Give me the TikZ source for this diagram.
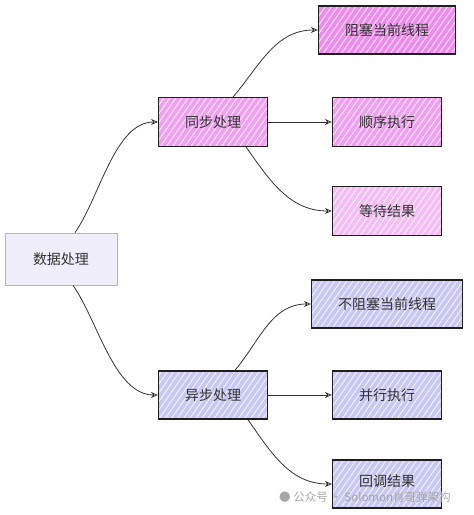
\documentclass[tikz,border=0pt]{standalone}
\usepackage{fontspec}
\setmainfont{Noto Sans CJK SC}
\usetikzlibrary{arrows.meta,positioning,patterns.meta}

\definecolor{syncfill}{HTML}{F0A0F0}
\definecolor{syncdeep}{HTML}{EE8CEE}
\definecolor{synclight}{HTML}{F4BEF4}
\definecolor{asyncfill}{HTML}{C8C8F2}
\definecolor{rootfill}{HTML}{EFEEFA}
\definecolor{rootline}{HTML}{B4B2D4}
\definecolor{inkline}{HTML}{1E1E1E}

\begin{document}
\begin{tikzpicture}[
  x=1pt, y=1pt,
  font=\fontsize{14}{16}\selectfont,
  box/.style={draw=inkline, line width=1.2pt, align=center, minimum width=109pt, minimum height=49pt, inner sep=3pt, text=black!80},
  hatch/.style={preaction={fill=#1}, pattern={Lines[angle=55, distance=5pt, line width=0.9pt]}, pattern color=white!80!#1},
  syncbox/.style={box, hatch=syncfill},
  asyncbox/.style={box, hatch=asyncfill},
  rootbox/.style={box, draw=rootline, line width=0.8pt, fill=rootfill, minimum width=112pt, minimum height=52pt},
  arr/.style={-{Stealth[length=7pt, width=6pt, open]}, draw=black!80, line width=0.8pt}
]
\useasboundingbox (0,0) rectangle (474,515);

% --- root ---
\node[rootbox] (data) at (61,256) {数据处理};

% --- synchronous branch ---
\node[syncbox] (sync) at (213,393) {同步处理};
\node[syncbox, hatch=syncdeep, minimum width=137pt, minimum height=48pt] (block) at (387,485) {阻塞当前线程};
\node[syncbox] (seq) at (387,393) {顺序执行};
\node[syncbox, hatch=synclight] (wait) at (387,304) {等待结果};

% --- asynchronous branch ---
\node[asyncbox, minimum height=48pt] (async) at (213,120) {异步处理};
\node[asyncbox, minimum width=151pt, minimum height=48pt] (nonblock) at (387,211) {不阻塞当前线程};
\node[asyncbox, minimum height=48pt] (par) at (387,120) {并行执行};
\node[asyncbox, minimum height=48pt, text depth=6pt] (callback) at (387,31) {回调结果};

\draw[arr] ([xshift=14pt]data.north) to[out=55, in=180, looseness=0.8] (sync.west);
\draw[arr] ([xshift=12pt]data.south) to[out=-55, in=180, looseness=0.8] (async.west);

\draw[arr] ([xshift=75pt]sync.north west) to[out=50, in=180] (block.west);
\draw[arr] (sync.east) -- (seq.west);
\draw[arr] ([xshift=88pt]sync.south west) to[out=-55, in=180] (wait.west);

\draw[arr] ([xshift=77pt]async.north west) to[out=50, in=180] (nonblock.west);
\draw[arr] (async.east) -- (par.west);
\draw[arr] ([xshift=90pt]async.south west) to[out=-55, in=180] (callback.west);

% watermark
\node[text=black!35, font=\fontsize{11.5}{13}\selectfont, anchor=west, inner sep=0pt] (mark) at (279,18) {● 公众号 · Solomon肖哥弹架构};
\end{tikzpicture}
\end{document}
